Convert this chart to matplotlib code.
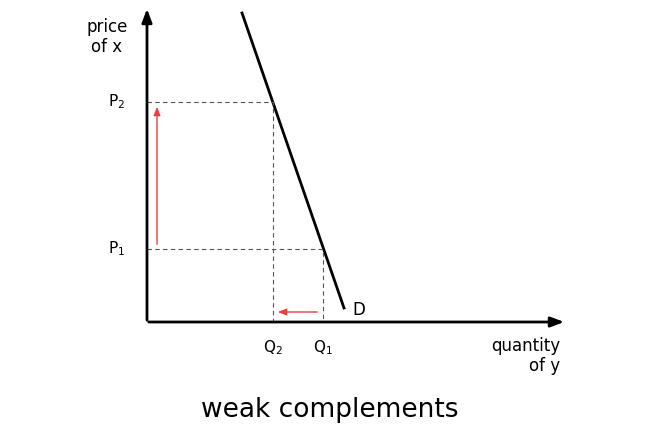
import matplotlib
matplotlib.use("Agg")
import matplotlib.pyplot as plt

# demand curve endpoints (quantity, price)
demand_q = [95, 197]
demand_p = [309, 14]
prices = [73, 220]      # P1, P2
quantities = [176, 126]  # Q1, Q2

fig = plt.figure(figsize=(6.5, 4.34), dpi=100)
ax = fig.add_axes([0, 0, 1, 1])
ax.set_xlim(-147, 503)
ax.set_ylim(-112, 322)
ax.axis("off")

# axes with arrows
ax.annotate("", xy=(0, 316), xytext=(0, -1),
            arrowprops=dict(arrowstyle="-|>,head_length=0.8,head_width=0.3", color="black", lw=2))
ax.annotate("", xy=(420, 0), xytext=(-1, 0),
            arrowprops=dict(arrowstyle="-|>,head_length=0.8,head_width=0.3", color="black", lw=2))

ax.plot(demand_q, demand_p, color="black", lw=2)
ax.text(demand_q[1] + 8, demand_p[1] - 2, "D", fontsize=12, va="center")

p1, p2 = prices
q1, q2 = quantities
dash = dict(color="#555555", lw=0.8, ls=(0, (4, 3)))
ax.plot([0, q2, q2], [p2, p2, 0], **dash)
ax.plot([0, q1, q1], [p1, p1, 0], **dash)

ax.text(-22, p2, "P$_2$", fontsize=11, ha="right", va="center")
ax.text(-22, p1, "P$_1$", fontsize=11, ha="right", va="center")
ax.text(q2, -16, "Q$_2$", fontsize=11, ha="center", va="top")
ax.text(q1, -16, "Q$_1$", fontsize=11, ha="center", va="top")

ax.text(-40, 285, "price\nof x", fontsize=12, ha="center", va="center", linespacing=1.2)
ax.text(413, -34, "quantity\nof y", fontsize=12, ha="right", va="center",
        multialignment="right", linespacing=1.2)
ax.text(183, -88, "weak complements", fontsize=19, ha="center", va="center")

red = dict(arrowstyle="-|>,head_length=0.5,head_width=0.2", color="#e8413c", lw=1)
ax.annotate("", xy=(10, p2 - 2), xytext=(10, p1 + 2), arrowprops=red)
ax.annotate("", xy=(q2 + 2, 10), xytext=(q1 - 3, 10), arrowprops=red)

fig.savefig("out.png", dpi=100)
